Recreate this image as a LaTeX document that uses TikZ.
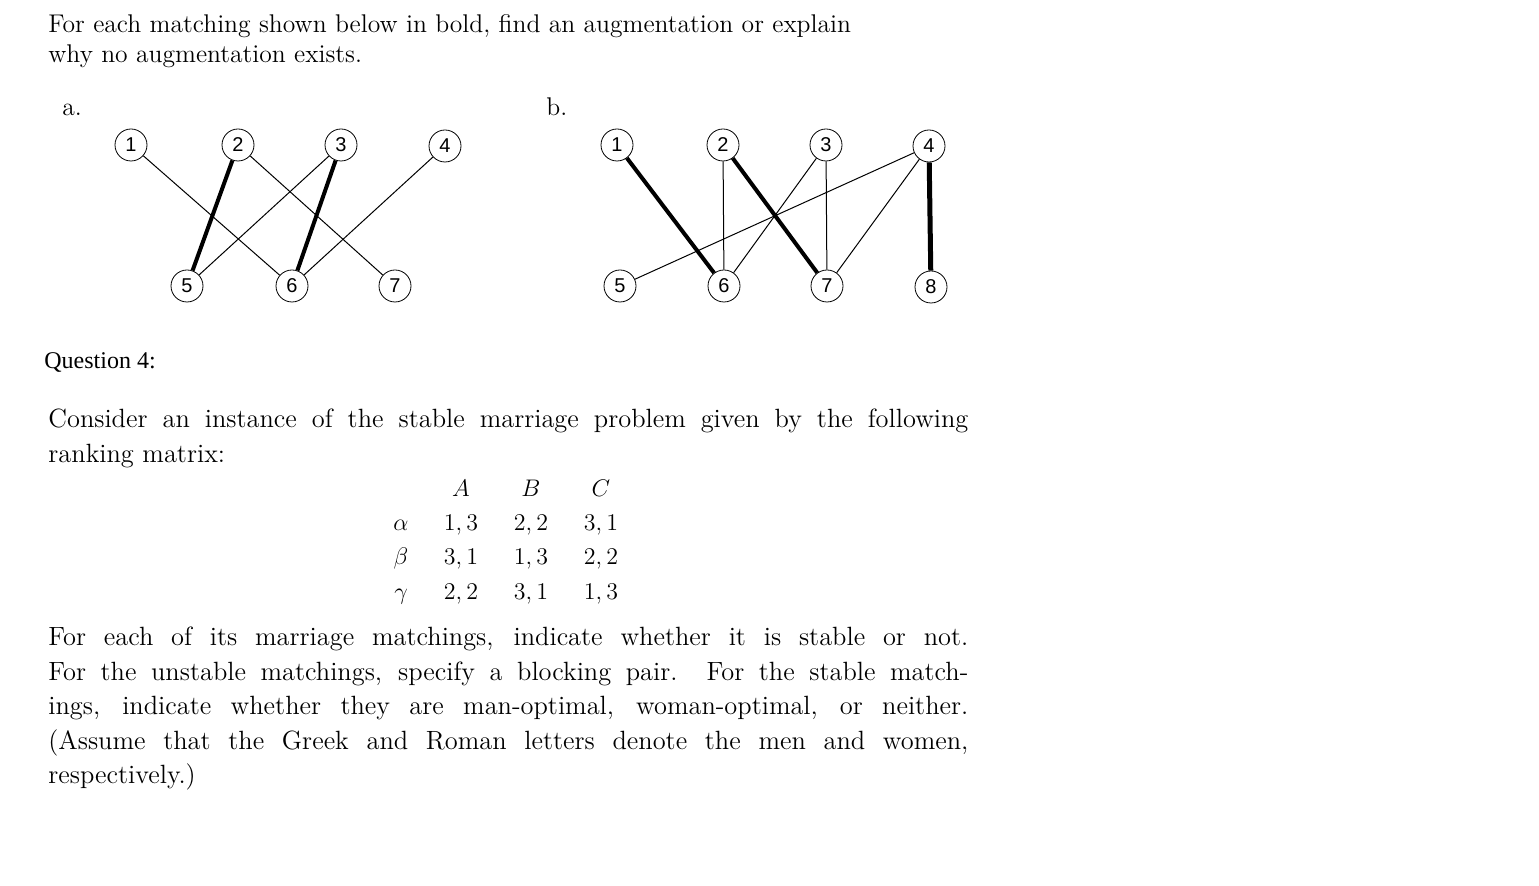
\documentclass[tikz,border=0pt]{standalone}
\usepackage{fontspec}
\newfontfamily\labfont{Liberation Sans}
\newfontfamily\timesfont{Liberation Serif}
\begin{document}
\begin{tikzpicture}[x=0.5pt,y=-0.5pt,
  vtx/.style={circle,draw,thin,minimum size=16pt,inner sep=0pt,font=\labfont\fontsize{10}{12}\selectfont},
  thinedge/.style={draw,line width=0.5pt},
  thickedge/.style={draw,line width=2pt},
  txt/.style={inner sep=0pt,anchor=base west,font=\fontsize{12.8}{15}\selectfont},
  para/.style={inner sep=0pt,anchor=base west,text width=460pt,align=justify,font=\fontsize{13.2}{17.25}\selectfont}]
\useasboundingbox (0,0) rectangle (1539,886);
% top text
\node[txt] (t1) at (48,33) {For each matching shown below in bold, find an augmentation or explain};
\node[txt] (t2) at (48,63) {why no augmentation exists.};
\node[txt] (la) at (62,116) {a.};
\node[txt] (lb) at (546,116) {b.};
% graph a
\node[vtx] (a1) at (131,145) {1};
\node[vtx] (a2) at (238,145) {2};
\node[vtx] (a3) at (341,145) {3};
\node[vtx] (a4) at (445,146) {4};
\node[vtx] (a5) at (187,286) {5};
\node[vtx] (a6) at (292,286) {6};
\node[vtx] (a7) at (395,286) {7};
\draw[thinedge] (a1) -- (a6);
\draw[thickedge] (a2) -- (a5);
\draw[thinedge] (a2) -- (a7);
\draw[thinedge] (a3) -- (a5);
\draw[thickedge] (a3) -- (a6);
\draw[thinedge] (a4) -- (a6);
% graph b
\node[vtx] (b1) at (617,145) {1};
\node[vtx] (b2) at (723,145) {2};
\node[vtx] (b3) at (826,145) {3};
\node[vtx] (b4) at (929,146) {4};
\node[vtx] (b5) at (620,286) {5};
\node[vtx] (b6) at (724,286) {6};
\node[vtx] (b7) at (827,286) {7};
\node[vtx] (b8) at (931,287) {8};
\draw[thickedge] (b1) -- (b6);
\draw[thinedge] (b2) -- (b6);
\draw[thickedge] (b2) -- (b7);
\draw[thinedge] (b3) -- (b6);
\draw[thinedge] (b3) -- (b7);
\draw[thinedge] (b4) -- (b5);
\draw[thinedge] (b4) -- (b7);
\draw[line width=2.5pt] (b4) -- (b8);
% question
\node[inner sep=0pt,anchor=base west,font=\timesfont\fontsize{12}{14}\selectfont] (q) at (44,369) {Question 4:};
\node[para] (p1) at (48,428)
 {Consider an instance of the stable marriage problem given by the following\linebreak ranking matrix:};
% matrix
\begin{scope}[every node/.style={inner sep=0pt,anchor=base,font=\fontsize{13.2}{16}\selectfont}]
\node (hA) at (461,497) {$A$};
\node (hB) at (531,497) {$B$};
\node (hC) at (601,497) {$C$};
\node (ra) at (401,531) {$\alpha$};
\node (rb) at (401,565) {$\beta$};
\node (rc) at (401,600) {$\gamma$};
\node (m11) at (461,531) {$1,3$};
\node (m12) at (531,531) {$2,2$};
\node (m13) at (601,531) {$3,1$};
\node (m21) at (461,565) {$3,1$};
\node (m22) at (531,565) {$1,3$};
\node (m23) at (601,565) {$2,2$};
\node (m31) at (461,600) {$2,2$};
\node (m32) at (531,600) {$3,1$};
\node (m33) at (601,600) {$1,3$};
\end{scope}
\node[para] (p2) at (48,646)
 {For each of its marriage matchings, indicate whether it is stable or not.\linebreak
 For the unstable matchings, specify a blocking pair.\ \ For the stable match-\linebreak
 ings, indicate whether they are man-optimal, woman-optimal, or neither.\linebreak
 (Assume that the Greek and Roman letters denote the men and women,\linebreak
 respectively.)};
\end{tikzpicture}
\end{document}
